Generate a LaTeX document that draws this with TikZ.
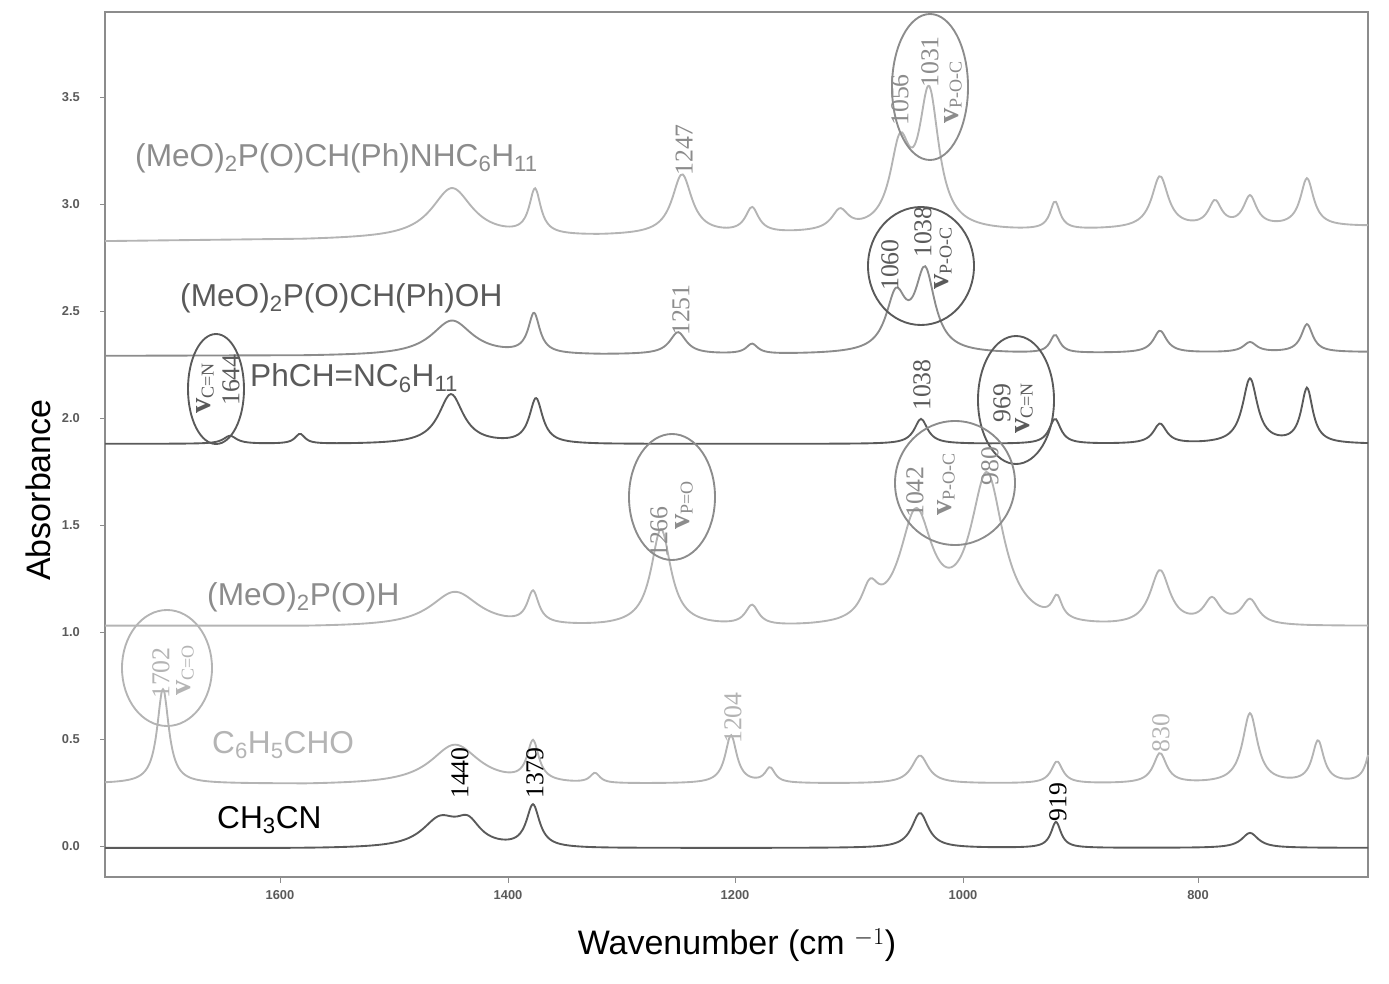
\documentclass[tikz,border=0pt]{standalone}
\usepackage{fontspec}
\setsansfont{Liberation Sans}
\setmainfont{Liberation Serif}
\pgfmathdeclarefunction{pk}{4}{\pgfmathparse{#2/(1+(min(abs(#1-#3),150)/#4)^2)}}
\definecolor{lg}{HTML}{B4B4B4}
\definecolor{mg}{HTML}{8C8C8C}
\definecolor{dg}{HTML}{5A5A5A}
\tikzset{
 spec/.style={line width=1.6pt,smooth},
 num/.style={rotate=90,font=\fontsize{22}{24}\selectfont\rmfamily,inner sep=0pt},
 nm/.style={font=\fontsize{27}{29}\selectfont\sffamily,anchor=west,inner sep=0pt},
 ring/.style={line width=1.6pt},
 tk/.style={font=\fontsize{11}{12}\selectfont\sffamily\bfseries,text=dg,inner sep=0pt}
}
\newcommand{\vb}[1]{\textbf{\fontsize{26}{26}\selectfont v}\textsubscript{#1}}
\begin{document}
\begin{tikzpicture}[x=0.03cm,y=-0.03cm]
\useasboundingbox (0,0) rectangle (1389,984);
\draw[mg,line width=1.2pt] (105,12) rectangle (1368,877);
\foreach \v/\y in {0.0/846,0.5/739,1.0/632,1.5/525,2.0/418,2.5/311,3.0/204,3.5/97}{
 \draw[mg,line width=0.8pt] (105,\y) -- (100,\y);
 \node[tk,anchor=east] (t\y) at (80,\y) {\v};}
\foreach \w/\x in {1600/280,1400/508,1200/735,1000/963,800/1198}{
 \draw[mg,line width=0.8pt] (\x,877) -- (\x,883);
 \node[tk] (x\w) at (\x,895) {\w};}
\node[rotate=90,font=\fontsize{29}{31}\selectfont\sffamily] (yl) at (38,490) {Absorbance};
\node[font=\fontsize{29}{31}\selectfont\sffamily] (xl) at (737,945) {Wavenumber (cm $^{-1}$)};
% spectra
\draw[spec,dg] plot[domain=105:1368,samples=600] (\x,{849-pk(\x,28,440,22)-pk(\x,22,468,15)-pk(\x,42,533,8)-pk(\x,35,920,10)-pk(\x,26,1056,6)-pk(\x,15,1250,10)});
\draw[spec,lg] plot[domain=105:1368,samples=600] (\x,{786-pk(\x,95,163,7)-pk(\x,40,455,30)-pk(\x,40,533,7)-pk(\x,10,595,6)-pk(\x,48,731,7)-pk(\x,15,770,6)-pk(\x,28,920,10)-pk(\x,22,1057,7)-pk(\x,30,1160,8)-pk(\x,70,1250,9)-pk(\x,42,1318,7)-pk(\x,40,1372,6)});
\draw[spec,lg] plot[domain=105:1368,samples=600] (\x,{633-pk(\x,35,455,30)-pk(\x,32,533,7)-pk(\x,97,661,12)-pk(\x,20,752,8)-pk(\x,30,870,10)-pk(\x,110,916,20)-pk(\x,150,987,20)-pk(\x,22,1057,6)-pk(\x,55,1160,12)-pk(\x,25,1212,10)-pk(\x,25,1250,10)});
\draw[spec,dg] plot[domain=105:1368,samples=600] (\x,{445-pk(\x,8,230,8)-pk(\x,10,300,6)-pk(\x,50,451,15)-pk(\x,45,536,8)-pk(\x,25,921,8)-pk(\x,25,1055,7)-pk(\x,20,1160,8)-pk(\x,65,1250,9)-pk(\x,55,1307,7)});
\draw[spec,mg] plot[domain=105:1368,samples=600] (\x,{358-0.003*(\x-105)-pk(\x,35,452,25)-pk(\x,40,534,7)-pk(\x,22,678,10)-pk(\x,10,752,7)-pk(\x,55,896,12)-pk(\x,80,925,12)-pk(\x,18,1055,6)-pk(\x,22,1160,8)-pk(\x,10,1250,8)-pk(\x,28,1307,7)});
\draw[spec,lg] plot[domain=105:1368,samples=600] (\x,{245-0.012*(\x-105)-pk(\x,50,452,25)-pk(\x,45,535,7)-pk(\x,60,682,12)-pk(\x,25,752,8)-pk(\x,20,840,10)-pk(\x,80,900,12)-pk(\x,135,929,12)-pk(\x,28,1055,6)-pk(\x,52,1160,10)-pk(\x,25,1215,8)-pk(\x,30,1250,8)-pk(\x,48,1307,8)});
% names
\node[nm,text=mg] (n1) at (135,158) {(MeO)\textsubscript{2}P(O)CH(Ph)NHC\textsubscript{6}H\textsubscript{11}};
\node[nm,text=dg] (n2) at (180,298) {(MeO)\textsubscript{2}P(O)CH(Ph)OH};
\node[nm,text=dg] (n3) at (250,378) {PhCH=NC\textsubscript{6}H\textsubscript{11}};
\node[nm,text=mg] (n4) at (207,597) {(MeO)\textsubscript{2}P(O)H};
\node[nm,text=lg] (n5) at (212,745) {C\textsubscript{6}H\textsubscript{5}CHO};
\node[nm,text=black] (n6) at (217,820) {CH\textsubscript{3}CN};
% ellipses
\draw[ring,mg] (930,87) ellipse (38 and 73);
\draw[ring,dg] (921,266) ellipse (53 and 59);
\draw[ring,dg] (216,389) ellipse (28 and 55);
\draw[ring,dg] (1016,400) ellipse (38 and 64);
\draw[ring,mg] (672,497) ellipse (43 and 63);
\draw[ring,mg] (955,483) ellipse (60 and 62);
\draw[ring,lg] (167,668) ellipse (45 and 58);
% peak labels
\node[num,text=mg] (a1) at (900,100) {1056};
\node[num,text=mg] (a2) at (930,62) {1031};
\node[num,text=mg] (a3) at (953,92) {\vb{P-O-C}};
\node[num,text=mg] (a4) at (684,150) {1247};
\node[num,text=dg] (b1) at (890,265) {1060};
\node[num,text=dg] (b2) at (923,232) {1038};
\node[num,text=dg] (b3) at (943,258) {\vb{P-O-C}};
\node[num,text=mg] (b4) at (681,310) {1251};
\node[num,text=dg] (c1) at (205,388) {\vb{C=N}};
\node[num,text=dg] (c2) at (231,380) {1644};
\node[num,text=dg] (c3) at (922,385) {1038};
\node[num,text=dg] (c4) at (1002,403) {969};
\node[num,text=dg] (c5) at (1024,408) {\vb{C=N}};
\node[num,text=mg] (d1) at (659,532) {1266};
\node[num,text=mg] (d2) at (684,505) {\vb{P=O}};
\node[num,text=mg] (d3) at (915,492) {1042};
\node[num,text=mg] (d4) at (946,484) {\vb{P-O-C}};
\node[num,text=mg] (d5) at (990,466) {980};
\node[num,text=lg] (e1) at (161,673) {1702};
\node[num,text=lg] (e2) at (185,670) {\vb{C=O}};
\node[num,text=lg] (e3) at (733,718) {1204};
\node[num,text=lg] (e4) at (1161,733) {830};
\node[num,text=black] (f1) at (460,773) {1440};
\node[num,text=black] (f2) at (535,773) {1379};
\node[num,text=black] (f3) at (1058,802) {919};
\end{tikzpicture}
\end{document}
